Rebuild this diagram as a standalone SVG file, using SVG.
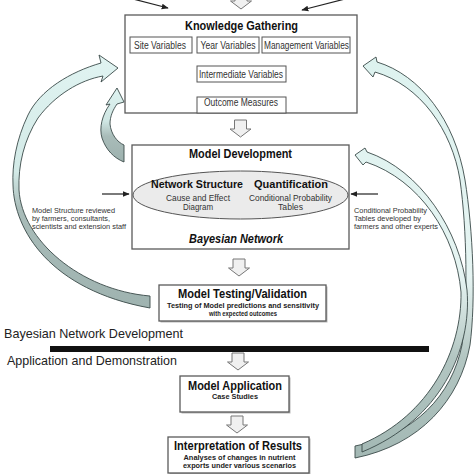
<svg xmlns="http://www.w3.org/2000/svg" width="474" height="474" viewBox="0 0 474 474">
<style>
text{font-family:"Liberation Sans",Arial,sans-serif;fill:#111}
.box{fill:#fff;stroke:#5a5a5a;stroke-width:1.3}
.sub{fill:#fff;stroke:#555;stroke-width:1}
.shadow{fill:#b8b8b8}
.t{font-weight:bold;font-size:12.5px;text-anchor:middle}
.s{font-size:10px;text-anchor:middle;fill:#333}
.n{font-size:9px;text-anchor:middle;fill:#333}
.b7{font-weight:bold;font-size:7.5px;text-anchor:middle;fill:#222}
.lab{font-size:7.5px;fill:#333}
.sec{font-size:13px;fill:#222}
.blk{fill:#f0f0f0;stroke:#777;stroke-width:1}
.thin{stroke:#222;stroke-width:1.2;fill:none;marker-end:url(#ah)}
.curve{stroke:#3a4a48;stroke-width:0.9}
</style>
<defs>
<marker id="ah" viewBox="0 0 10 10" refX="9" refY="5" markerWidth="7" markerHeight="7" orient="auto" markerUnits="userSpaceOnUse">
<path d="M0,1 L10,5 L0,9 z" fill="#222"/>
</marker>
<path id="bigArrow" d="M-6,0 h12 v9 h4.5 l-10.5,8 l-10.5,-8 h4.5 z"/>
<path id="smallArrow" d="M-3.5,0 h7 v3 h3 l-6.5,4 l-6.5,-4 h3 z"/>
<linearGradient id="gL" gradientUnits="userSpaceOnUse" x1="0" y1="60" x2="0" y2="308">
<stop offset="0" stop-color="#e0f3f1"/>
<stop offset="0.45" stop-color="#d3eae7"/>
<stop offset="0.6" stop-color="#a9bcb9"/>
<stop offset="1" stop-color="#9fb3b0"/>
</linearGradient>
<linearGradient id="gS" gradientUnits="userSpaceOnUse" x1="0" y1="88" x2="0" y2="162">
<stop offset="0" stop-color="#dff3f1"/>
<stop offset="0.45" stop-color="#cfe6e3"/>
<stop offset="0.65" stop-color="#a9bcb9"/>
<stop offset="1" stop-color="#9db1ae"/>
</linearGradient>
<linearGradient id="gR" gradientUnits="userSpaceOnUse" x1="0" y1="55" x2="0" y2="458">
<stop offset="0" stop-color="#ddf2ef"/>
<stop offset="0.55" stop-color="#e6f4f2"/>
<stop offset="0.75" stop-color="#b3c6c2"/>
<stop offset="1" stop-color="#a3b8b4"/>
</linearGradient>
</defs>

<g id="connectors">
<line class="thin" x1="133" y1="-1" x2="168" y2="8"/>
<line class="thin" x1="345" y1="-1" x2="302" y2="10"/>
<use href="#bigArrow" class="blk" transform="translate(241,-8)"/>
<use href="#smallArrow" class="blk" transform="translate(161,57)"/>
<use href="#smallArrow" class="blk" transform="translate(241,57)"/>
<use href="#smallArrow" class="blk" transform="translate(308,57)"/>
<use href="#smallArrow" class="blk" transform="translate(242,87)"/>
<use href="#bigArrow" class="blk" transform="translate(240.5,120)"/>
<use href="#bigArrow" class="blk" transform="translate(239,259)"/>
<use href="#bigArrow" class="blk" transform="translate(238,353)"/>
<use href="#bigArrow" class="blk" transform="translate(237,416)"/>
<line class="thin" x1="102" y1="194" x2="129" y2="194"/>
<line class="thin" x1="378" y1="194" x2="351" y2="194"/>
<path id="curveLeftBig" class="curve" fill="url(#gL)" d="M118,68 L99,55 L101,63 C70,72 40,90 28,115 C16,140 12,165 13,185 C14,230 50,290 150,308 L150,296 C80,290 22,240 19,190 C18,165 24,140 38,118 C55,95 80,80 103,76 L101,82 Z"/>
<path id="curveLeftSmall" class="curve" fill="url(#gS)" d="M117,88 L106,105 L110,104 C102,115 99,128 102,138 C106,150 114,158 124,162 L124,145 C117,142 111,134 110,124 C110,116 113,110 117,104 L124,102 Z"/>
<path id="curveRightTop" class="curve" fill="url(#gR)" d="M363,66 L376,57 L377,62 C420,75 455,120 465,180 C473,230 476,300 470,345 C460,400 420,445 355,458 L355,446 C415,435 452,395 462,345 C468,300 467,230 460,180 C452,130 420,85 375,72 L373,77 Z"/>
<path id="curveRightMid" class="curve" fill="url(#gR)" d="M355,155 L365,148 L367,152 C420,170 460,230 467,290 C472,350 440,420 362,452 L362,444 C430,415 462,350 461,292 C456,235 420,180 366,162 L363,165 Z"/>
</g>

<g id="knowledge-gathering">
<rect class="box" x="125" y="15" width="232" height="98"/>
<text class="t" x="241.5" y="29.5" textLength="113" lengthAdjust="spacingAndGlyphs">Knowledge Gathering</text>
</g>
<g id="site-variables">
<rect class="sub" x="130" y="37" width="62" height="16"/>
<text class="s" x="160" y="48.5" textLength="52" lengthAdjust="spacingAndGlyphs">Site Variables</text>
</g>
<g id="year-variables">
<rect class="sub" x="197" y="37" width="62" height="16"/>
<text class="s" x="228" y="48.5" textLength="55" lengthAdjust="spacingAndGlyphs">Year Variables</text>
</g>
<g id="management-variables">
<rect class="sub" x="262" y="37" width="88" height="16"/>
<text class="s" x="306.5" y="48.5" textLength="85" lengthAdjust="spacingAndGlyphs">Management Variables</text>
</g>
<g id="intermediate-variables">
<rect class="sub" x="197" y="66" width="89" height="16"/>
<text class="s" x="241" y="77.5" textLength="84" lengthAdjust="spacingAndGlyphs">Intermediate Variables</text>
</g>
<g id="outcome-measures">
<rect class="sub" x="197" y="97" width="89" height="16"/>
<text class="s" x="241" y="106" textLength="74" lengthAdjust="spacingAndGlyphs">Outcome Measures</text>
</g>

<g id="model-development">
<rect class="box" x="132" y="145" width="217" height="104"/>
<text class="t" x="240.5" y="158" textLength="103" lengthAdjust="spacingAndGlyphs">Model Development</text>
<ellipse cx="240.5" cy="195" rx="107.5" ry="24" fill="#ebebeb" stroke="#555" stroke-width="1"/>
<text class="t" style="font-size:11px" x="197" y="188" textLength="92" lengthAdjust="spacingAndGlyphs">Network Structure</text>
<text class="t" style="font-size:11px" x="291" y="188" textLength="74" lengthAdjust="spacingAndGlyphs">Quantification</text>
<text class="n" x="198" y="201" textLength="64" lengthAdjust="spacingAndGlyphs">Cause and Effect</text>
<text class="n" x="198" y="210" textLength="30" lengthAdjust="spacingAndGlyphs">Diagram</text>
<text class="n" x="290.5" y="201" textLength="83" lengthAdjust="spacingAndGlyphs">Conditional Probability</text>
<text class="n" x="290.5" y="210" textLength="25" lengthAdjust="spacingAndGlyphs">Tables</text>
<text class="t" style="font-style:italic" x="236" y="243" textLength="94" lengthAdjust="spacingAndGlyphs">Bayesian Network</text>
</g>

<g id="label-left">
<text class="lab" x="32" y="213" textLength="83" lengthAdjust="spacingAndGlyphs">Model Structure reviewed</text>
<text class="lab" x="32" y="221" textLength="78" lengthAdjust="spacingAndGlyphs">by farmers, consultants,</text>
<text class="lab" x="32" y="229" textLength="94" lengthAdjust="spacingAndGlyphs">scientists and extension staff</text>
</g>
<g id="label-right">
<text class="lab" x="354" y="213" textLength="73" lengthAdjust="spacingAndGlyphs">Conditional Probability</text>
<text class="lab" x="354" y="221" textLength="67" lengthAdjust="spacingAndGlyphs">Tables developed by</text>
<text class="lab" x="354" y="229" textLength="84" lengthAdjust="spacingAndGlyphs">farmers and other experts</text>
</g>

<g id="model-testing">
<rect class="shadow" x="160.5" y="286.5" width="167" height="36"/>
<rect class="box" x="159" y="285" width="167" height="36"/>
<text class="t" x="242.5" y="298" textLength="129" lengthAdjust="spacingAndGlyphs">Model Testing/Validation</text>
<text class="b7" style="font-size:7px" x="243" y="307.5" textLength="152" lengthAdjust="spacingAndGlyphs">Testing of Model predictions and sensitivity</text>
<text class="b7" style="font-size:7px" x="243" y="316" textLength="68" lengthAdjust="spacingAndGlyphs">with expected outcomes</text>
</g>

<g id="phase-divider">
<text class="sec" x="4" y="338" textLength="179" lengthAdjust="spacingAndGlyphs">Bayesian Network Development</text>
<rect x="50" y="346" width="379" height="6" fill="#111"/>
<text class="sec" x="7" y="365" textLength="170" lengthAdjust="spacingAndGlyphs">Application and Demonstration</text>
</g>

<g id="model-application">
<rect class="shadow" x="181.5" y="377.5" width="109" height="36"/>
<rect class="box" x="180" y="376" width="109" height="36"/>
<text class="t" x="235" y="390" textLength="94" lengthAdjust="spacingAndGlyphs">Model Application</text>
<text class="b7" style="font-size:7px" x="235" y="398.5" textLength="46" lengthAdjust="spacingAndGlyphs">Case Studies</text>
</g>

<g id="interpretation">
<rect class="shadow" x="169.5" y="438.5" width="141" height="36"/>
<rect class="box" x="168" y="437" width="141" height="36"/>
<text class="t" x="238" y="450" textLength="128" lengthAdjust="spacingAndGlyphs">Interpretation of Results</text>
<text class="b7" x="239.5" y="459.5" textLength="112" lengthAdjust="spacingAndGlyphs">Analyses of changes in nutrient</text>
<text class="b7" x="239.5" y="467.5" textLength="113" lengthAdjust="spacingAndGlyphs">exports under various scenarios</text>
</g>
</svg>
